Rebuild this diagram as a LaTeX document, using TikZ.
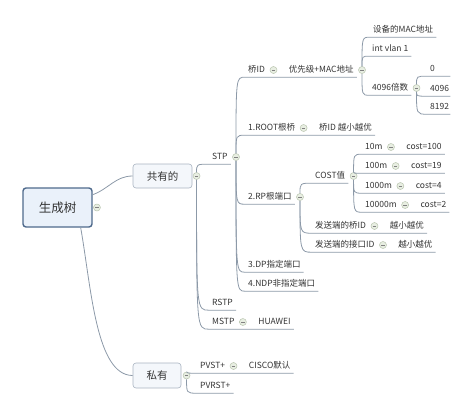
\documentclass[tikz,border=0pt]{standalone}
\usepackage{fontspec}
\setmainfont{Noto Sans CJK SC}
\usepackage{xcolor}
\usepackage{tikz}
\usetikzlibrary{positioning,calc}

\definecolor{linecol}{HTML}{8C99A8}
\definecolor{rootline}{HTML}{4F6A8C}
\definecolor{rootfill}{HTML}{EAF1FA}
\definecolor{topline}{HTML}{A9B3C0}
\definecolor{topfill}{HTML}{F4F7FB}
\definecolor{foldline}{HTML}{B8C4AE}
\definecolor{foldfill}{HTML}{E8EEE2}
\definecolor{textcol}{HTML}{333333}

\begin{document}
\begin{tikzpicture}[
    x=1pt, y=-1pt,
    rootbox/.style={rectangle, rounded corners=3pt, draw=rootline, line width=1.4pt, fill=rootfill, minimum width=69pt, minimum height=39pt, text=textcol, font=\fontsize{12.5}{14}\selectfont},
    topic/.style={rectangle, rounded corners=3pt, draw=topline, line width=0.6pt, fill=topfill, minimum width=59pt, minimum height=24pt, text=textcol, font=\fontsize{10.5}{12}\selectfont},
    leaf/.style={anchor=west, inner xsep=3pt, inner ysep=2.5pt, text height=7pt, text depth=2pt, text=textcol, font=\fontsize{8.5}{10}\selectfont},
    fold/.style={circle, draw=foldline, fill=foldfill, line width=0.5pt, inner sep=0pt, minimum size=7pt,
        path picture={\draw[gray, line width=0.5pt] ([xshift=-1.8pt]path picture bounding box.center) -- ([xshift=1.8pt]path picture bounding box.center);}},
    branch/.style={draw=linecol, line width=0.8pt},
    twig/.style={to path={.. controls (\tikztostart |- \tikztotarget) .. (\tikztotarget) \tikztonodes}}
]
\useasboundingbox (0,0) rectangle (474,416);

\node[rootbox] (root) at (57.5,207.5) {生成树};
\node[fold, right=0.5pt of root] (rootf) {};
\node[topic] (pub) at (162.5,176) {共有的};
\node[fold, right=0.5pt of pub] (pubf) {};
\node[topic, minimum width=48pt, minimum height=25pt] (priv) at (157,375.5) {私有};
\node[fold, right=1.5pt of priv] (privf) {};

\node[leaf] (stp) at (209,157) {STP};
\node[fold, right=1.5pt of stp] (stpf) {};
\node[leaf] (rstp) at (209,303) {RSTP};
\node[leaf] (mstp) at (209,322) {MSTP};
\node[fold, right=1.5pt of mstp] (mstpf) {};
\node[leaf, right=8.5pt of mstpf] (huawei) {HUAWEI};

\node[leaf] (bid) at (245,70) {桥ID};
\node[fold, right=1.5pt of bid] (bidf) {};
\node[leaf, right=8.5pt of bidf] (prio) {优先级+MAC地址};
\node[fold, right=1.5pt of prio] (priof) {};
\node[leaf] (dev) at (370,30) {设备的MAC地址};
\node[leaf] (vlan) at (369,49) {int vlan 1};
\node[leaf] (mult) at (369,88) {4096倍数};
\node[fold, right=1.5pt of mult] (multf) {};
\node[leaf, text width=17pt, align=left] (p0) at (427,69) {0};
\node[leaf, text width=17pt, align=left] (p4096) at (427,89) {4096};
\node[leaf, text width=17pt, align=left] (p8192) at (427,107) {8192};

\node[leaf] (rb) at (245,128) {1.ROOT根桥};
\node[fold, right=1.5pt of rb] (rbf) {};
\node[leaf, right=8.5pt of rbf] (rbv) {桥ID 越小越优};

\node[leaf] (rp) at (245,197) {2.RP根端口};
\node[fold, right=1.5pt of rp] (rpf) {};
\node[leaf] (cost) at (312,176) {COST值};
\node[fold, right=1.5pt of cost] (costf) {};
\node[leaf] (m10) at (362,147) {10m};
\node[fold, right=1.5pt of m10] (m10f) {};
\node[leaf, right=8.5pt of m10f] (c100) {cost=100};
\node[leaf] (m100) at (362,166) {100m};
\node[fold, right=1.5pt of m100] (m100f) {};
\node[leaf, right=8.5pt of m100f] (c19) {cost=19};
\node[leaf] (m1000) at (362,186) {1000m};
\node[fold, right=1.5pt of m1000] (m1000f) {};
\node[leaf, right=8.5pt of m1000f] (c4) {cost=4};
\node[leaf] (m10000) at (362,205) {10000m};
\node[fold, right=1.5pt of m10000] (m10000f) {};
\node[leaf, right=8.5pt of m10000f] (c2) {cost=2};
\node[leaf] (sbid) at (312,226) {发送端的桥ID};
\node[fold, right=1.5pt of sbid] (sbidf) {};
\node[leaf, right=8.5pt of sbidf] (sbidv) {越小越优};
\node[leaf] (spid) at (312,245) {发送端的接口ID};
\node[fold, right=1.5pt of spid] (spidf) {};
\node[leaf, right=8.5pt of spidf] (spidv) {越小越优};

\node[leaf] (dp) at (245,265) {3.DP指定端口};
\node[leaf] (ndp) at (245,284) {4.NDP非指定端口};

\node[leaf] (pvst) at (197,366) {PVST+};
\node[fold, right=1.5pt of pvst] (pvstf) {};
\node[leaf, right=8.5pt of pvstf] (cisco) {CISCO默认};
\node[leaf] (pvrst) at (197,386) {PVRST+};

\draw[branch] (root) to[out=20,in=180] (pub);
\draw[branch] ([xshift=-12pt]root.south east) to[out=-80,in=180,in looseness=0.6] (priv);

\draw[branch] (pubf) to[twig] (stp.south west) -- (stp.south east);
\draw[branch] (pubf) to[twig] (rstp.south west) -- (rstp.south east);
\draw[branch] (pubf) to[twig] (mstp.south west) -- (huawei.south east);

\draw[branch] (stpf) to[twig] (bid.south west) -- (prio.south east);
\draw[branch] (priof) to[twig] (dev.south west) -- (dev.south east);
\draw[branch] (priof) to[twig] (vlan.south west) -- (vlan.south east);
\draw[branch] (priof) to[twig] (mult.south west) -- (mult.south east);
\draw[branch] (multf) to[twig] (p0.south west) -- (p0.south east);
\draw[branch] (multf) to[twig] (p4096.south west) -- (p4096.south east);
\draw[branch] (multf) to[twig] (p8192.south west) -- (p8192.south east);

\draw[branch] (stpf) to[twig] (rb.south west) -- (rbv.south east);
\draw[branch] (stpf) to[twig] (rp.south west) -- (rp.south east);
\draw[branch] (rpf) to[twig] (cost.south west) -- (cost.south east);
\draw[branch] (costf) to[twig] (m10.south west) -- (c100.south east);
\draw[branch] (costf) to[twig] (m100.south west) -- (c19.south east);
\draw[branch] (costf) to[twig] (m1000.south west) -- (c4.south east);
\draw[branch] (costf) to[twig] (m10000.south west) -- (c2.south east);
\draw[branch] (rpf) to[twig] (sbid.south west) -- (sbidv.south east);
\draw[branch] (rpf) to[twig] (spid.south west) -- (spidv.south east);
\draw[branch] (stpf) to[twig] (dp.south west) -- (dp.south east);
\draw[branch] (stpf) to[twig] (ndp.south west) -- (ndp.south east);

\draw[branch] (privf) to[twig] (pvst.south west) -- (cisco.south east);
\draw[branch] (privf) to[twig] (pvrst.south west) -- (pvrst.south east);
\end{tikzpicture}
\end{document}
